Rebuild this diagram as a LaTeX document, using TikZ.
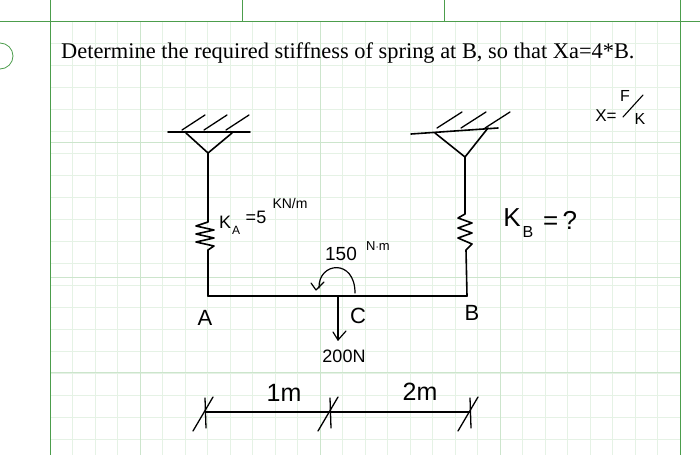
\documentclass[tikz,border=0pt]{standalone}
\usepackage{fontspec}
\setmainfont{Liberation Serif}
\newfontfamily\hand{Liberation Sans}
\begin{document}
\begin{tikzpicture}[x=1pt,y=-1pt,
  ink/.style={line width=1.6pt,line cap=round,line join=round},
  lab/.style={font=\hand\fontsize{22}{22}\selectfont,inner sep=0pt},
  slab/.style={font=\hand\fontsize{13}{13}\selectfont,inner sep=0pt}]
\fill[white] (0,0) rectangle (700,455);
\useasboundingbox (0,0) rectangle (700,455);
% grid
\foreach \x in {72.5,95,117.5,140,162.5,185,207.5,230,252.5,275,297.5,320,342.5,365,387.5,410,432.5,455,477.5,500,522.5,545,567.5,590,612.5,635,657.5}
  \draw[green!50!black!10,line width=0.6pt] (\x,21) -- (\x,455);
\foreach \y in {43,65,87,109,131,153,175,197,219,241,263,285,307,329,351,373,395,417,439}
  \draw[green!50!black!10,line width=0.6pt] (50,\y) -- (680,\y);
\foreach \x in {140,320,500}
  \draw[green!50!black!20,line width=0.8pt] (\x,21) -- (\x,455);
\foreach \y in {142,277,372}
  \draw[green!50!black!20,line width=0.8pt] (50,\y) -- (680,\y);
% frame
\draw[green!45!black!70,line width=1pt] (0,21) -- (700,21);
\foreach \x in {50,680} \draw[green!45!black!70,line width=1pt] (\x,0) -- (\x,455);
\foreach \x in {242,444} \draw[green!45!black!70,line width=1pt] (\x,0) -- (\x,21);
\draw[green!45!black!70,line width=0.8pt] (0,69) arc[start angle=90,end angle=-90,radius=13];
% title
\node[font=\fontsize{22.4}{22.4}\selectfont,anchor=west,inner sep=0pt] (title) at (61,53) {Determine the required stiffness of spring at B, so that Xa=4*B.};
% formula
\node[slab,font=\hand\fontsize{17}{17}\selectfont] (xf) at (606,116) {X=};
\node[slab,font=\hand\fontsize{16}{16}\selectfont] (ff) at (625,96) {F};
\node[slab,font=\hand\fontsize{16}{16}\selectfont] (kf) at (640,119) {K};
\draw[line width=1.1pt,line cap=round] (623,117) -- (643,95);
% left support
\draw[ink] (168,132) -- (250,132);
\foreach \d in {0,22,44} \draw[ink,line width=1.3pt] (182+\d,130) -- (205+\d,115);
\draw[ink] (186,133) -- (208,153) -- (232,133);
\coordinate (Atop) at (208,153);
\coordinate (A) at (208,296);
\draw[ink] (Atop) -- (208,222) -- (196,226) -- (214,230) -- (196,234) -- (214,238) -- (196,242) -- (214,246) -- (208,250) -- (A);
% right support
\draw[ink] (411,134) -- (498,128);
\foreach \d in {0,24,48} \draw[ink,line width=1.3pt] (437+\d,128) -- (462+\d,112);
\draw[ink] (435,133) -- (465,157) -- (488,128);
\coordinate (Btop) at (465,157);
\coordinate (B) at (467,296);
\draw[ink] (Btop) -- (465,214) -- (458,218) -- (472,223) -- (458,228) -- (472,233) -- (458,238) -- (472,244) -- (466,250) -- (B);
% beam
\draw[ink] (A) -- (B);
% load
\coordinate (C) at (338,297);
\coordinate (Cl) at (338,340);
\draw[ink,line width=1.2pt] (C) -- (Cl);
\draw[ink,line width=1.2pt] (333,332) -- (Cl) -- (346,331);
% moment
\draw[ink,line width=1.2pt] (355,293) .. controls (355,258) and (318,262) .. (319,288);
\draw[ink,line width=1.2pt] (311,283) -- (316,290) -- (324,282);
% labels
\node[lab] (la) at (205,318) {A};
\node[lab] (lb) at (472,313) {B};
\node[lab] (lc) at (358,316) {C};
\node[slab,font=\hand\fontsize{18}{18}\selectfont] (l200) at (344,356) {200N};
\node[slab,font=\hand\fontsize{19}{19}\selectfont] (l150) at (341,254) {150};
\node[slab] (lnm) at (378,246) {N$\cdot$m};
\node[slab,font=\hand\fontsize{18}{18}\selectfont] (lkak) at (225,222) {K};
\node[slab,font=\hand\fontsize{12}{12}\selectfont] (lkaa) at (236,230) {A};
\node[slab,font=\hand\fontsize{18}{18}\selectfont] (lka5) at (256,217) {=5};
\node[slab,font=\hand\fontsize{14}{14}\selectfont] (lkn) at (290,203) {KN/m};
\node[lab,font=\hand\fontsize{26}{26}\selectfont] (lkbk) at (512,218) {K};
\node[lab,font=\hand\fontsize{16}{16}\selectfont] (lkbb) at (528,232) {B};
\node[lab,font=\hand\fontsize{26}{26}\selectfont] (lkbq) at (560,220) {=\,?};
% dimension
\coordinate (d1) at (205,412);
\coordinate (d2) at (330,412);
\coordinate (d3) at (470,412);
\draw[ink,line width=1.2pt] (d1) -- (d3);
\foreach \p in {205,330,470} {
  \draw[ink,line width=1.3pt] (\p-12,431) -- (\p+8,397);
  \draw[ink,line width=1.3pt] (\p,398) -- (\p+1,428);
}
\node[lab,font=\hand\fontsize{25}{25}\selectfont] (l1m) at (284,393) {1m};
\node[lab,font=\hand\fontsize{25}{25}\selectfont] (l2m) at (420,392) {2m};
\end{tikzpicture}
\end{document}
